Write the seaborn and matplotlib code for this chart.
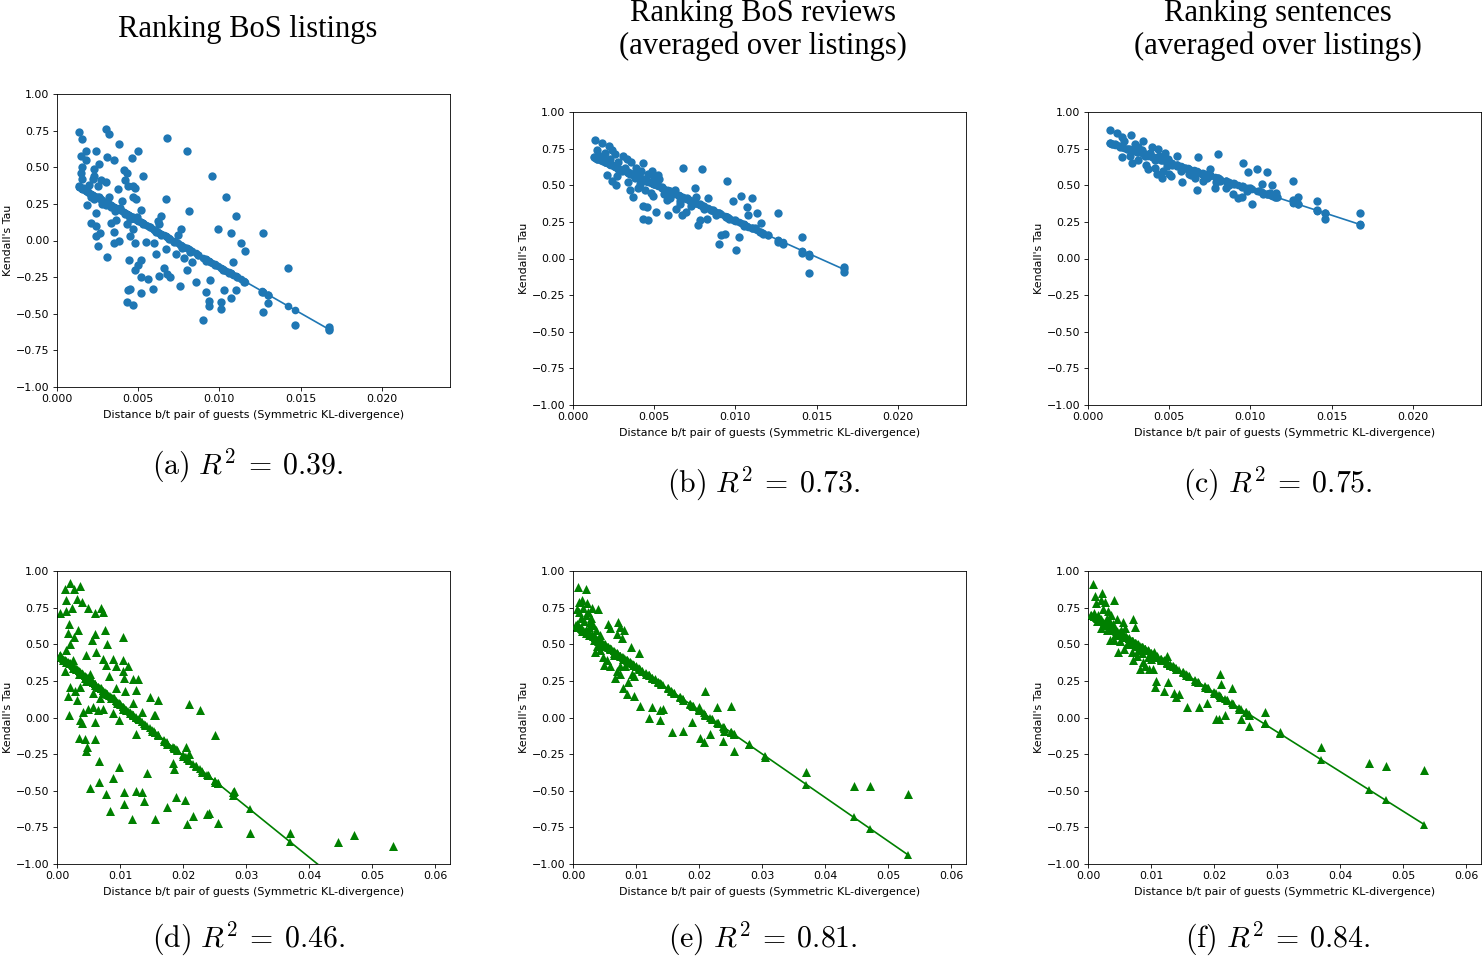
import numpy as np
import seaborn as sns
import matplotlib.pyplot as plt

# distances are written in units of 1e-3 and scaled below
# (a) ranking BoS listings, top row
dist_a = [1.33, 1.56, 1.77, 1.50, 1.77, 1.56, 1.46, 1.56, 1.36, 1.85,
          2.10, 2.40, 2.40, 2.50, 2.67, 2.40, 2.30, 2.40, 2.60, 2.30,
          2.50, 2.70, 3.00, 3.00, 3.20, 3.10, 3.50, 3.80, 3.10, 3.50,
          3.80, 3.50, 3.35, 3.65, 3.75, 4.10, 4.30, 4.20, 4.40, 4.70,
          4.80, 4.60, 5.00, 5.30, 4.30, 4.50, 4.65, 4.80, 4.45, 4.40,
          4.50, 4.30, 4.65, 4.80, 5.00, 5.20, 5.20, 5.20, 5.60, 5.90,
          4.85, 4.65, 5.20, 5.50, 6.10, 6.00, 6.40, 6.30, 6.30, 6.60,
          6.80, 6.95, 6.70, 6.70, 6.80, 7.45, 7.65, 7.35, 7.60, 8.00,
          8.00, 8.10, 7.85, 8.30, 8.55, 9.00, 9.15, 9.35, 9.35, 9.45,
          9.55, 9.90, 10.1, 10.1, 10.3, 10.4, 10.7, 10.85, 10.7, 11.0,
          11.0, 11.35, 11.6, 12.7, 12.7, 13.0, 14.2, 14.65, 16.75, 16.75,
          1.6, 1.9, 2.1, 2.3, 2.6, 2.8, 3.0, 3.3, 3.6, 3.9,
          4.2, 4.5, 4.9, 5.3, 5.7, 6.1, 6.4, 6.9, 7.2, 7.7,
          8.2, 8.7, 9.2, 9.7, 10.2, 10.6, 11.1, 11.5, 12.6, 13.0,
          6.2, 3.2, 4.0, 2.0, 2.2]
tau_a = [0.74, 0.69, 0.61, 0.58, 0.55, 0.50, 0.46, 0.42, 0.37, 0.24,
         0.12, 0.10, 0.03, -0.04, 0.05, 0.19, 0.49, 0.61, 0.52, 0.44,
         0.37, 0.41, 0.40, 0.76, 0.73, 0.57, 0.55, 0.66, -0.11, -0.02,
         0.00, 0.06, 0.12, 0.14, 0.35, 0.48, 0.46, 0.41, 0.37, 0.37,
         0.36, 0.56, 0.61, 0.44, 0.11, 0.03, 0.08, -0.02, -0.13, -0.34,
         -0.33, -0.42, -0.44, -0.20, -0.17, -0.13, -0.25, -0.36, -0.26, -0.33,
         0.28, 0.30, 0.21, -0.01, -0.09, -0.02, 0.17, 0.11, -0.24, -0.19,
         -0.23, -0.25, -0.06, 0.28, 0.70, 0.04, 0.08, -0.09, -0.31, -0.20,
         0.61, 0.20, -0.12, -0.15, -0.28, -0.54, -0.35, -0.41, -0.45, -0.27,
         0.44, 0.08, -0.42, -0.47, -0.34, 0.30, 0.05, -0.15, -0.39, 0.17,
         -0.34, -0.02, -0.07, 0.05, -0.49, -0.43, -0.19, -0.58, -0.59, -0.61,
         0.36, 0.33, 0.30, 0.28, 0.30, 0.25, 0.24, 0.23, 0.20, 0.22,
         0.18, 0.15, 0.16, 0.11, 0.09, 0.06, 0.04, 0.01, -0.01, -0.05,
         -0.08, -0.10, -0.14, -0.17, -0.20, -0.22, -0.25, -0.28, -0.35, -0.37,
         0.13, 0.30, 0.27, 0.38, 0.42]

# (b) ranking BoS reviews
dist_b = [1.33, 1.78, 1.31, 1.47, 1.67, 1.98, 2.24, 2.39, 2.29, 2.08,
          2.39, 2.65, 2.69, 2.80, 3.10, 3.20, 3.41, 3.51, 3.71, 3.82,
          4.02, 4.12, 4.33, 4.43, 4.33, 4.33, 4.63, 4.53, 4.84, 4.94,
          5.14, 5.24, 5.45, 5.82, 5.76, 6.27, 6.33, 6.57, 6.73, 6.78,
          6.98, 7.29, 7.49, 7.59, 7.69, 7.80, 7.96, 8.04, 8.24, 8.31,
          8.61, 8.96, 9.12, 9.33, 9.47, 9.43, 9.88, 10.04, 10.2, 10.35,
          10.69, 11.0, 10.8, 11.3, 11.55, 12.65, 12.6, 12.94, 14.12, 14.12,
          14.53, 14.53, 16.67, 16.67,
          1.5, 2.0, 2.5, 3.0, 3.5, 4.0, 4.5, 5.0, 5.5, 6.0,
          6.5, 7.0, 7.5, 8.0, 8.5, 9.0, 9.5, 10.0, 10.5, 11.0,
          11.5, 12.0,
          2.0, 2.6, 3.3, 3.6, 3.9, 4.2, 4.6, 5.0, 5.3, 2.8,
          3.4, 4.0, 4.8, 5.6, 6.0, 6.6, 7.2, 7.8, 8.8, 9.6,
          10.5, 11.2, 11.7]
tau_b = [0.81, 0.79, 0.69, 0.74, 0.70, 0.67, 0.77, 0.74, 0.68, 0.57,
         0.53, 0.50, 0.56, 0.66, 0.70, 0.62, 0.59, 0.47, 0.42, 0.55,
         0.59, 0.51, 0.65, 0.47, 0.36, 0.27, 0.26, 0.35, 0.60, 0.43,
         0.32, 0.57, 0.49, 0.30, 0.40, 0.47, 0.34, 0.39, 0.30, 0.62,
         0.32, 0.36, 0.48, 0.42, 0.23, 0.26, 0.61, 0.34, 0.27, 0.41,
         0.33, 0.10, 0.16, 0.17, 0.53, 0.28, 0.39, 0.06, 0.15, 0.43,
         0.35, 0.41, 0.30, 0.31, 0.24, 0.31, 0.11, 0.10, 0.15, 0.04,
         -0.10, 0.02, -0.06, -0.09,
         0.68, 0.66, 0.63, 0.60, 0.58, 0.56, 0.53, 0.51, 0.48, 0.46,
         0.43, 0.41, 0.38, 0.36, 0.33, 0.31, 0.28, 0.26, 0.23, 0.21,
         0.18, 0.16,
         0.72, 0.71, 0.68, 0.66, 0.62, 0.60, 0.58, 0.55, 0.54, 0.61,
         0.52, 0.48, 0.45, 0.44, 0.41, 0.37, 0.39, 0.37, 0.30, 0.27,
         0.22, 0.21, 0.17]

# (c) ranking sentences
dist_c = [1.37, 1.37, 1.78, 1.67, 2.08, 2.12, 2.65, 2.69, 2.39, 3.10,
          3.41, 3.51, 3.71, 3.92, 4.12, 4.33, 4.22, 4.53, 4.73, 4.84,
          5.14, 5.45, 5.51, 5.80, 6.16, 6.37, 6.73, 6.78, 7.08, 7.49,
          7.80, 8.00, 8.10, 8.51, 8.92, 9.22, 9.47, 9.53, 9.88, 10.08,
          10.39, 10.69, 11.02, 11.31, 11.57, 11.63, 12.65, 12.65, 12.94, 12.94,
          14.12, 14.12, 14.59, 14.59, 16.73, 16.73,
          1.5, 2.0, 2.5, 3.0, 3.5, 4.0, 4.5, 5.0, 5.5, 6.0,
          6.5, 7.0, 7.5, 8.0, 8.5, 9.0, 9.5, 10.0, 10.5, 11.0,
          11.5,
          2.2, 2.9, 3.3, 3.8, 4.4, 4.9, 5.2, 5.7, 6.2, 2.6,
          3.1, 3.6, 4.1, 4.6, 5.0, 6.6, 7.3, 7.9, 8.7, 9.8,
          10.8, 11.2]
tau_c = [0.88, 0.79, 0.86, 0.78, 0.83, 0.69, 0.84, 0.65, 0.75, 0.76,
         0.80, 0.70, 0.61, 0.76, 0.67, 0.75, 0.58, 0.55, 0.72, 0.63,
         0.56, 0.70, 0.63, 0.52, 0.61, 0.57, 0.47, 0.69, 0.53, 0.61,
         0.48, 0.71, 0.53, 0.48, 0.44, 0.41, 0.42, 0.65, 0.59, 0.37,
         0.61, 0.51, 0.59, 0.50, 0.45, 0.42, 0.53, 0.40, 0.42, 0.37,
         0.39, 0.33, 0.31, 0.27, 0.31, 0.23,
         0.78, 0.76, 0.75, 0.73, 0.71, 0.69, 0.67, 0.66, 0.64, 0.62,
         0.60, 0.58, 0.57, 0.55, 0.53, 0.51, 0.49, 0.48, 0.46, 0.44,
         0.42,
         0.80, 0.78, 0.74, 0.72, 0.70, 0.68, 0.64, 0.60, 0.58, 0.70,
         0.67, 0.64, 0.62, 0.60, 0.58, 0.55, 0.55, 0.52, 0.50, 0.46,
         0.44, 0.45]

# (d) ranking BoS listings, bottom row
dist_d = [1.2, 2.0, 2.65, 3.7, 1.5, 0.5, 1.5, 2.3, 3.2, 3.9,
          4.9, 6.0, 6.9, 7.3, 1.9, 1.75, 3.3, 2.65, 2.1, 1.5,
          0.7, 1.2, 2.5, 6.0, 5.6, 7.6, 8.0, 4.55, 6.2, 7.3,
          7.8, 8.8, 9.4, 10.5, 10.5, 11.3, 10.5, 8.3, 10.6, 12.1,
          12.8, 12.5, 10.8, 9.4, 2.0, 1.75, 3.1, 2.8, 3.7, 4.65,
          5.2, 5.7, 6.8, 5.7, 4.9, 4.1, 6.5, 7.3, 1.9, 3.6,
          4.0, 6.0, 8.9, 9.8, 12.1, 13.5, 12.6, 14.7, 16.0, 15.3,
          15.6, 20.9, 22.6, 25.0, 3.5, 4.4, 6.0, 4.8, 4.55, 6.7,
          6.7, 5.3, 7.7, 8.4, 8.8, 9.8, 10.6, 10.6, 11.95, 12.6,
          13.5, 13.75, 14.2, 15.6, 17.4, 18.8, 20.3, 20.6, 21.6, 23.8,
          24.1, 25.5, 18.4, 18.5, 20.4, 30.6, 36.9, 44.5, 47.1, 53.2,
          27.9,
          0.5, 1.0, 1.5, 2.0, 2.5, 3.0, 3.5, 4.0, 4.5, 5.0,
          5.5, 6.0, 6.5, 7.0, 7.5, 8.0, 8.5, 9.0, 9.5, 10.0,
          10.5, 11.0, 11.5, 12.0, 13.0, 14.0, 15.0, 16.0, 17.0, 17.5,
          18.5, 19.0, 20.0, 21.0, 22.0, 23.0, 24.0, 25.0, 25.6, 28.0]
tau_d = [0.88, 0.92, 0.88, 0.90, 0.80, 0.71, 0.73, 0.75, 0.81, 0.79,
         0.75, 0.71, 0.75, 0.72, 0.64, 0.58, 0.60, 0.55, 0.50, 0.46,
         0.41, 0.32, 0.39, 0.57, 0.53, 0.60, 0.50, 0.43, 0.45, 0.40,
         0.36, 0.40, 0.35, 0.39, 0.32, 0.35, 0.55, 0.28, 0.27, 0.26,
         0.26, 0.19, 0.18, 0.20, 0.21, 0.15, 0.12, 0.18, 0.21, 0.25,
         0.30, 0.17, 0.13, 0.07, 0.06, 0.04, 0.05, 0.06, 0.02, -0.02,
         -0.04, -0.03, 0.03, -0.02, 0.10, 0.04, -0.11, 0.14, 0.12, 0.02,
         0.02, 0.09, 0.05, -0.12, -0.14, -0.15, -0.15, -0.20, -0.23, -0.30,
         -0.44, -0.48, -0.52, -0.64, -0.41, -0.34, -0.51, -0.59, -0.69, -0.50,
         -0.51, -0.57, -0.38, -0.69, -0.61, -0.54, -0.56, -0.73, -0.67, -0.66,
         -0.65, -0.72, -0.31, -0.35, -0.20, -0.79, -0.79, -0.85, -0.80, -0.88,
         -0.51,
         0.43, 0.39, 0.38, 0.37, 0.34, 0.33, 0.30, 0.30, 0.27, 0.26,
         0.25, 0.22, 0.21, 0.20, 0.17, 0.16, 0.13, 0.13, 0.10, 0.09,
         0.06, 0.05, 0.03, 0.02, -0.01, -0.05, -0.09, -0.12, -0.16, -0.18,
         -0.21, -0.22, -0.26, -0.25, -0.33, -0.37, -0.39, -0.44, -0.45, -0.50]

# (e) ranking BoS reviews, bottom row
dist_e = [0.74, 2.1, 0.9, 1.4, 2.2, 3.0, 3.9, 0.6, 0.6, 1.2,
          2.0, 2.75, 1.2, 2.0, 2.75, 3.7, 4.3, 5.5, 5.8, 7.1,
          7.5, 8.1, 7.0, 7.8, 9.2, 10.4, 3.3, 3.8, 4.3, 5.1,
          5.9, 3.5, 4.8, 5.4, 6.45, 4.9, 5.9, 6.9, 7.5, 8.3,
          6.6, 7.5, 7.9, 8.5, 9.7, 8.7, 9.4, 9.7, 10.6, 12.0,
          12.6, 13.8, 14.3, 13.8, 15.7, 17.4, 18.9, 19.9, 21.0, 22.8,
          25.1, 20.2, 20.7, 21.7, 23.8, 23.9, 25.6, 27.9, 30.5, 37.0,
          44.5, 47.1, 53.1,
          0.5, 1.0, 1.5, 2.0, 2.5, 3.0, 3.5, 4.0, 4.5, 5.0,
          5.5, 6.0, 6.5, 7.0, 7.5, 8.0, 8.5, 9.0, 9.5, 10.0,
          10.5, 11.0, 11.5, 12.0, 12.5, 13.0, 13.5, 14.0, 15.0, 15.5,
          16.0, 17.0, 17.5, 18.5, 19.0, 20.0, 21.0, 22.0, 23.0, 24.0,
          25.0, 25.5,
          1.0, 1.6, 2.4, 2.9, 3.2, 1.8, 2.6]
tau_e = [0.89, 0.88, 0.79, 0.80, 0.78, 0.75, 0.74, 0.74, 0.64, 0.68,
         0.70, 0.65, 0.61, 0.58, 0.57, 0.60, 0.56, 0.64, 0.61, 0.65,
         0.62, 0.60, 0.57, 0.54, 0.48, 0.44, 0.53, 0.49, 0.46, 0.50,
         0.47, 0.45, 0.41, 0.39, 0.43, 0.36, 0.35, 0.32, 0.35, 0.35,
         0.27, 0.30, 0.20, 0.16, 0.15, 0.24, 0.30, 0.28, 0.08, 0.00,
         0.07, 0.05, 0.06, -0.02, -0.10, -0.09, -0.03, 0.07, 0.18, 0.07,
         0.08, -0.14, -0.17, -0.11, -0.16, -0.09, -0.23, -0.18, -0.27, -0.37,
         -0.47, -0.47, -0.52,
         0.62, 0.62, 0.59, 0.60, 0.56, 0.56, 0.55, 0.52, 0.52, 0.49,
         0.48, 0.47, 0.44, 0.44, 0.42, 0.40, 0.39, 0.38, 0.36, 0.35,
         0.33, 0.32, 0.30, 0.29, 0.27, 0.26, 0.24, 0.23, 0.20, 0.18,
         0.17, 0.14, 0.12, 0.09, 0.08, 0.05, 0.02, -0.01, -0.04, -0.07,
         -0.10, -0.11,
         0.72, 0.75, 0.72, 0.68, 0.63, 0.66, 0.62]

# (f) ranking sentences, bottom row
dist_f = [0.8, 1.06, 2.2, 1.2, 2.0, 2.75, 4.1, 0.9, 1.6, 2.3,
          3.2, 3.7, 2.1, 3.0, 3.9, 4.6, 5.5, 7.1, 7.5, 5.9,
          3.5, 4.2, 4.8, 5.7, 7.0, 7.2, 8.3, 9.1, 9.7, 10.3,
          10.8, 10.7, 12.0, 12.7, 13.6, 14.0, 14.4, 15.7, 17.6, 18.9,
          20.3, 20.7, 21.7, 21.0, 21.1, 22.8, 24.3, 25.6, 28.0, 28.0,
          30.5, 37.0, 44.6, 47.2, 53.3,
          3.0, 3.5, 4.0, 4.5, 5.0, 5.3, 6.0, 6.5, 7.0, 7.6,
          8.0, 8.5, 9.0, 9.5, 10.0, 10.5, 11.0, 11.5, 12.5, 13.0,
          4.3, 5.0, 6.2, 8.7, 7.8,
          0.5, 1.0, 1.5, 2.0, 2.5, 3.0, 3.5, 4.0, 4.5, 5.0,
          5.5, 6.0, 6.5, 7.0, 7.5, 8.0, 8.5, 9.0, 9.5, 10.0,
          10.5, 11.0, 11.5, 12.0, 12.5, 13.0, 13.5, 14.0, 15.0, 15.5,
          16.0, 17.0, 17.5, 18.5, 19.0, 20.0, 21.0, 22.0, 23.0, 24.0,
          25.0, 25.5]
tau_f = [0.91, 0.83, 0.85, 0.78, 0.80, 0.79, 0.80, 0.71, 0.70, 0.74,
         0.73, 0.70, 0.61, 0.60, 0.64, 0.67, 0.65, 0.67, 0.62, 0.61,
         0.53, 0.53, 0.45, 0.47, 0.45, 0.39, 0.33, 0.35, 0.33, 0.33,
         0.25, 0.21, 0.18, 0.24, 0.17, 0.14, 0.16, 0.07, 0.07, 0.10,
         -0.01, -0.01, 0.02, 0.30, 0.23, 0.20, -0.01, -0.06, 0.04, -0.04,
         -0.10, -0.20, -0.31, -0.33, -0.36,
         0.68, 0.65, 0.60, 0.58, 0.57, 0.60, 0.55, 0.52, 0.50, 0.49,
         0.46, 0.44, 0.47, 0.41, 0.40, 0.45, 0.42, 0.39, 0.42, 0.36,
         0.56, 0.52, 0.50, 0.38, 0.42,
         0.70, 0.69, 0.66, 0.67, 0.64, 0.63, 0.61, 0.61, 0.59, 0.58,
         0.56, 0.55, 0.54, 0.52, 0.51, 0.50, 0.48, 0.47, 0.46, 0.44,
         0.43, 0.41, 0.40, 0.39, 0.37, 0.36, 0.35, 0.33, 0.31, 0.29,
         0.28, 0.25, 0.24, 0.21, 0.20, 0.17, 0.14, 0.12, 0.09, 0.06,
         0.04, 0.02]

# linear fits: (intercept, slope)
fit_a = (0.452, -63.2)
fit_b = (0.755, -49.7)
fit_c = (0.837, -36.1)
fit_d = (0.437, -34.8)
fit_e = (0.645, -29.8)
fit_f = (0.714, -27.1)

col_titles = ["Ranking BoS listings",
              "Ranking BoS reviews\n(averaged over listings)",
              "Ranking sentences\n(averaged over listings)"]
letters = ["a", "b", "c", "d", "e", "f"]
r2 = ["0.39", "0.73", "0.75", "0.46", "0.81", "0.84"]

plt.rcParams['mathtext.fontset'] = 'cm'
serif = ['Liberation Serif', 'DejaVu Serif']

W, H = 1484, 958
fig = plt.figure(figsize=(W / 100, H / 100), dpi=100)


def panel(left, top, dist, tau, fit, color, marker, xmax, ticks):
    ax = fig.add_axes([left / W, 1 - (top + 293) / H, 393 / W, 293 / H])
    x = np.array(dist) / 1000
    sns.scatterplot(x=x, y=tau, ax=ax, color=color, marker=marker,
                    s=36 if marker == 'o' else 42, linewidth=0, zorder=2)
    xs = np.sort(x)
    sns.lineplot(x=xs, y=fit[0] + fit[1] * xs, ax=ax, color=color,
                 marker=marker, markersize=5.5, markeredgewidth=0,
                 linewidth=1.2, estimator=None, zorder=3)
    ax.set_xlim(0, xmax)
    ax.set_ylim(-1, 1)
    ax.set_xticks(ticks)
    ax.set_yticks(np.arange(-1, 1.01, 0.25))
    ax.tick_params(labelsize=7.9, length=2.8, width=0.6, pad=2.5)
    for s in ax.spines.values():
        s.set_linewidth(0.6)
    ax.set_xlabel("Distance b/t pair of guests (Symmetric KL-divergence)",
                  fontsize=7.9, labelpad=4)
    ax.set_ylabel("Kendall's Tau", fontsize=7.9, labelpad=2.5)
    return ax


top_ticks = [0, 0.005, 0.010, 0.015, 0.020]
bot_ticks = [0, 0.01, 0.02, 0.03, 0.04, 0.05, 0.06]
blue, green = '#1f77b4', 'green'

panel(57, 94, dist_a, tau_a, fit_a, blue, 'o', 0.0242, top_ticks)
panel(573, 112, dist_b, tau_b, fit_b, blue, 'o', 0.0242, top_ticks)
panel(1088, 112, dist_c, tau_c, fit_c, blue, 'o', 0.0242, top_ticks)
panel(57, 571, dist_d, tau_d, fit_d, green, '^', 0.0623, bot_ticks)
panel(573, 571, dist_e, tau_e, fit_e, green, '^', 0.0623, bot_ticks)
panel(1088, 571, dist_f, tau_f, fit_f, green, '^', 0.0623, bot_ticks)

centers = [248, 763, 1278]
for cx, t in zip(centers, col_titles):
    fig.text(cx / W, 1 - 30 / H, t, ha='center', va='center',
             fontsize=22, family=serif, linespacing=1.15)

cap_y = [466, 484, 484, 939, 939, 939]
for i in range(6):
    cap = r"$\mathrm{(%s)}\ R^2\:=\:%s.$" % (letters[i], r2[i])
    fig.text(centers[i % 3] / W, 1 - cap_y[i] / H, cap, ha='center',
             va='center', fontsize=21.5)

fig.savefig('out.png', dpi=100)
